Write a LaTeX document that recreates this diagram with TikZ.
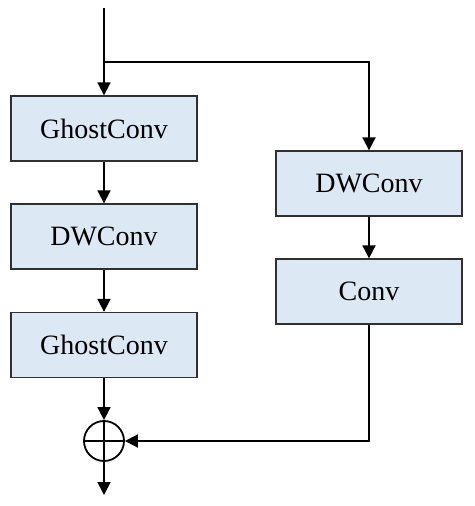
\documentclass[tikz,border=0pt]{standalone}
\usepackage{fontspec}
\setmainfont{Liberation Serif}
\usetikzlibrary{arrows.meta}
\definecolor{boxfill}{HTML}{DDE8F5}
\definecolor{boxline}{HTML}{303030}
\tikzset{
  blk/.style={draw=boxline, line width=1.3pt, fill=boxfill, minimum width=186pt, minimum height=65pt, inner sep=0pt, font=\fontsize{28}{32}\selectfont},
  conn/.style={line width=1.8pt, -{Triangle[length=13pt,width=13pt]}},
  sumnode/.style={draw, circle, line width=1.8pt, minimum size=40pt, inner sep=0pt,
    path picture={\draw[line width=1.8pt] (path picture bounding box.north) -- (path picture bounding box.south) (path picture bounding box.west) -- (path picture bounding box.east);}}
}
\begin{document}
\begin{tikzpicture}[x=1pt,y=-1pt]
\useasboundingbox (0,0) rectangle (474,506);
\coordinate (in) at (104,8);
\coordinate (br) at (104,62);
\node[blk] (g1) at (104,128.5) {GhostConv};
\node[blk] (d1) at (104,236.5) {DWConv};
\node[blk] (g2) at (104,345) {GhostConv};
\node[blk] (rd) at (369,183.5) {DWConv};
\node[blk] (rc) at (369,291.5) {Conv};
\node[sumnode] (sum) at (104,441) {};
\coordinate (out) at (104,495);
\draw[conn] (in) -- (g1);
\draw[conn] (br) -| (rd);
\draw[conn] (g1) -- (d1);
\draw[conn] (d1) -- (g2);
\draw[conn] (g2) -- (sum);
\draw[conn] (rd) -- (rc);
\draw[conn] (rc.south) |- (sum.east);
\draw[conn] (sum) -- (out);
\end{tikzpicture}
\end{document}
